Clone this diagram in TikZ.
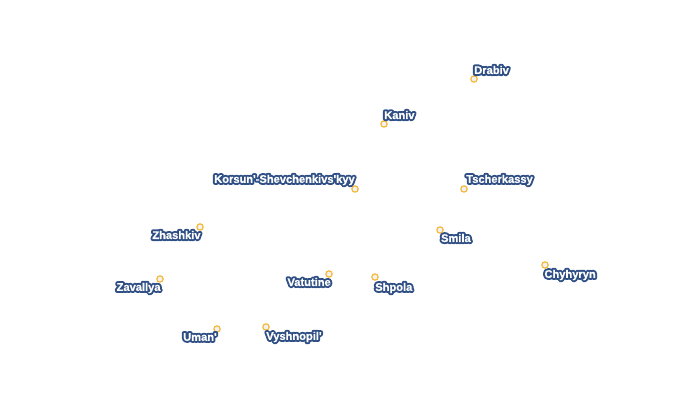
\documentclass[tikz,border=0pt]{standalone}
\usepackage{fontspec}
\setmainfont{Liberation Sans}
\definecolor{haloblue}{HTML}{2F4F85}
\definecolor{ringorange}{HTML}{F5B93A}
\definecolor{ringfill}{HTML}{F2F2F2}
\tikzset{
  town/.style={circle, draw=ringorange, fill=ringfill, line width=0.85pt, minimum size=4.5pt, inner sep=0pt},
  townname/.style={inner sep=0pt, font=\bfseries\fontsize{7.9}{9.5}\selectfont}
}
\newcommand{\halo}[1]{\makebox[0pt][l]{\textcolor{haloblue}{\special{pdf:code 1 j 1 J 2.9 w 2 Tr}#1}}\textcolor{white}{\special{pdf:code 0.05 w 2 Tr}#1\special{pdf:code 0 Tr 0.4 w}}}

\begin{document}
\begin{tikzpicture}
        % Frame of the page:
        \useasboundingbox (0, 0) rectangle (17.5, 10.25);
        % Towns and their names:
        \draw node[town] (N1) at (11.85, 8.275) {} node[townname, anchor=west] (L1) at ([xshift=0mm, yshift=2.25mm]N1.center){\halo{Drabiv}};
        \draw node[town] (N2) at (9.6, 7.15) {} node[townname, anchor=west] (L2) at ([xshift=0mm, yshift=2.25mm]N2.center){\halo{Kaniv}};
        \draw node[town] (N3) at (8.875, 5.525) {} node[townname, anchor=east] (L3) at ([xshift=0mm, yshift=2.25mm]N3.center){\halo{Korsun\textquotesingle-Shevchenkivs\textquotesingle kyy}};
        \draw node[town] (N4) at (11.6, 5.525) {} node[townname, anchor=west] (L4) at ([xshift=0.5mm, yshift=2.25mm]N4.center){\halo{Tscherkassy}};
        \draw node[town] (N5) at (5, 4.575) {} node[townname, anchor=east] (L5) at ([xshift=0.2mm, yshift=-2mm]N5.center){\halo{Zhashkiv}};
        \draw node[town] (N6) at (11, 4.5) {} node[townname, anchor=west] (L6) at ([xshift=0.2mm, yshift=-2mm]N6.center){\halo{Smila}};
        \draw node[town] (N7) at (13.625, 3.625) {} node[townname, anchor=west] (L7) at ([xshift=-0.2mm, yshift=-2.5mm]N7.center){\halo{Chyhyryn}};
        \draw node[town] (N8) at (4, 3.275) {} node[townname, anchor=east] (L8) at ([xshift=0.2mm, yshift=-2.25mm]N8.center){\halo{Zavallya}};
        \draw node[town] (N9) at (8.225, 3.4) {} node[townname, anchor=east] (L9) at ([xshift=0.5mm, yshift=-2mm]N9.center){\halo{Vatutine}};
        \draw node[town] (N10) at (9.375, 3.325) {} node[townname, anchor=west] (L10) at ([xshift=0mm, yshift=-2.75mm]N10.center){\halo{Shpola}};
        \draw node[town] (N11) at (5.425, 2.025) {} node[townname, anchor=east] (L11) at ([xshift=0mm, yshift=-2mm]N11.center){\halo{Uman\textquotesingle}};
        \draw node[town] (N12) at (6.65, 2.075) {} node[townname, anchor=west] (L12) at ([xshift=0mm, yshift=-2.5mm]N12.center){\halo{Vyshnopil\textquotesingle}};
\end{tikzpicture}
\end{document}
